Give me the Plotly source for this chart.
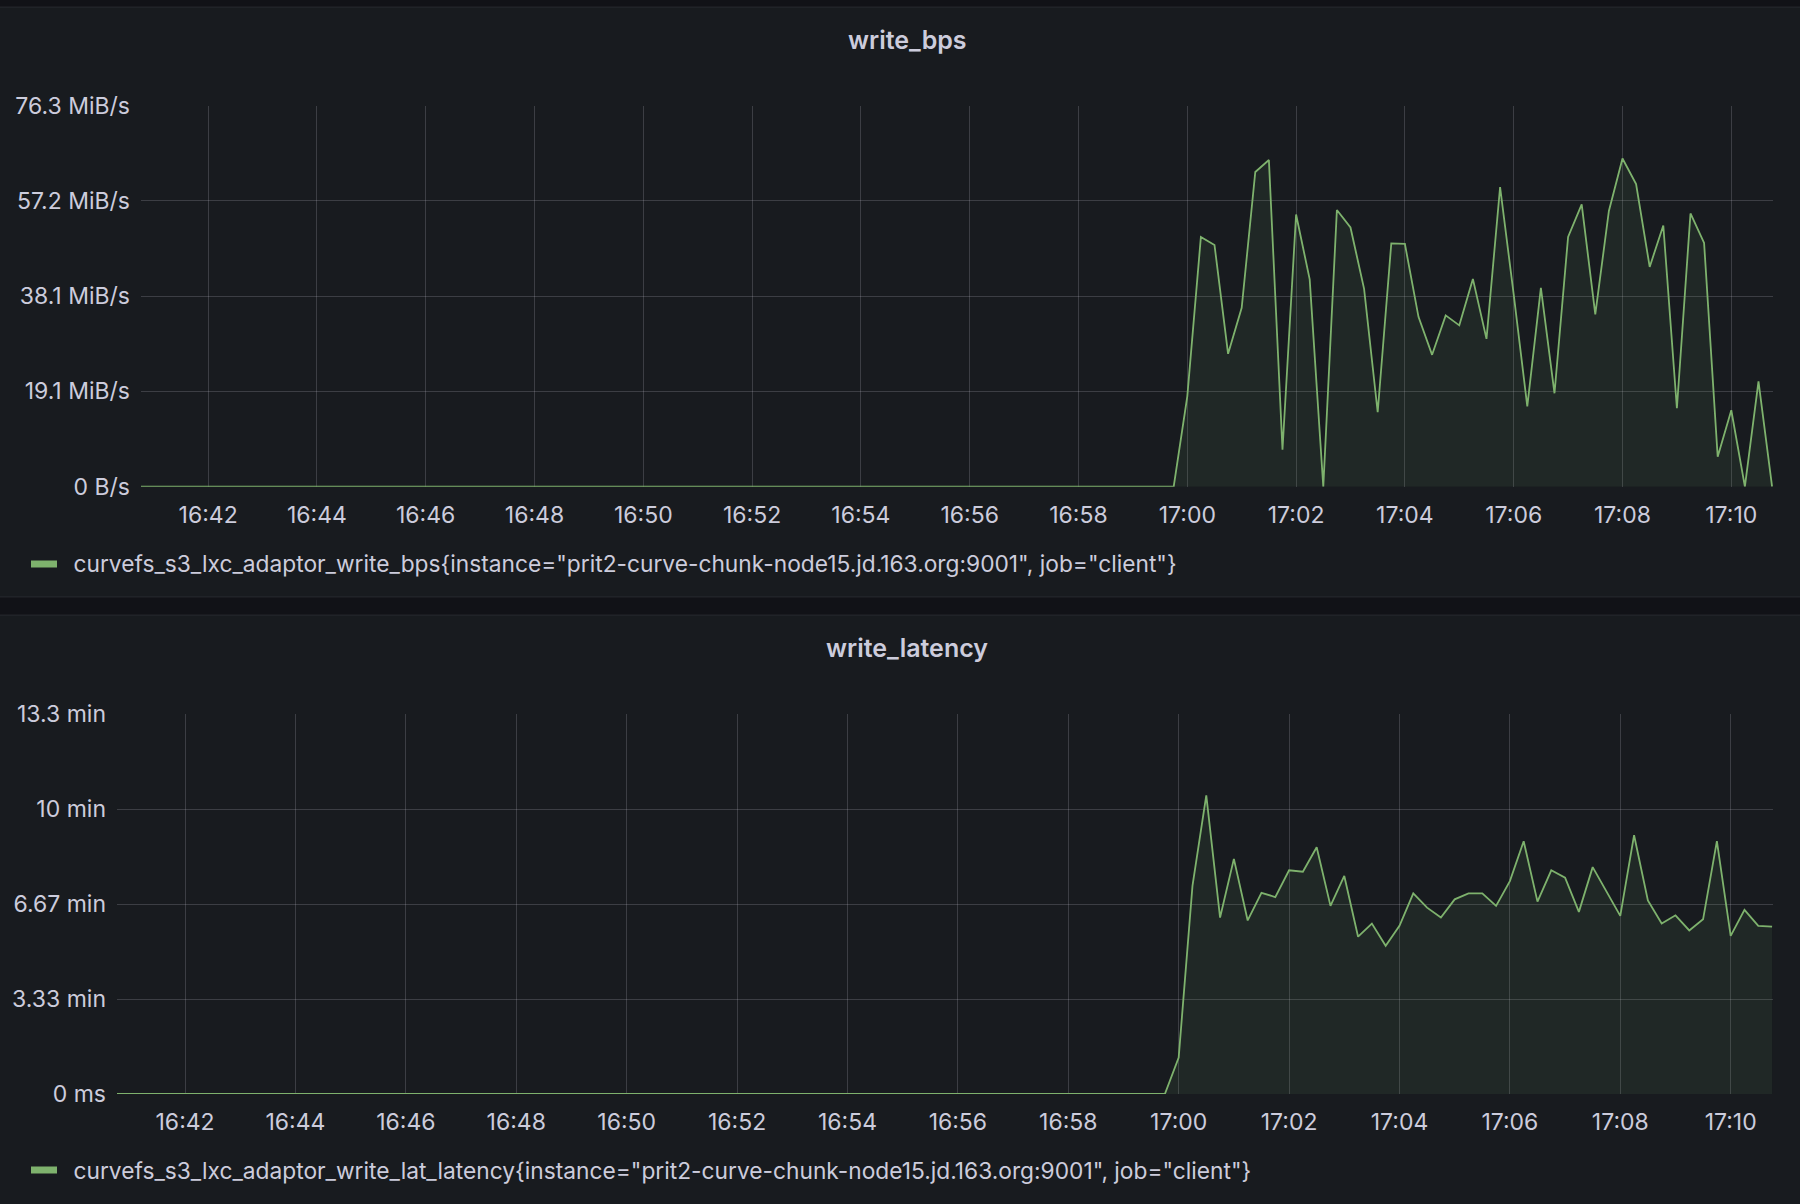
import pandas as pd
import plotly.graph_objects as go

# ---- data ----
DAY = "2022-06-10 "
pre_zero_count = 76  # flat zero samples, 16:40:45 .. 16:59:30 (15 s step)
bps_active = [0, 18.1, 50.0, 48.4, 26.6, 35.8, 63.0, 65.4, 7.4, 54.5, 41.5, 0,
              55.4, 51.9, 39.6, 14.9, 48.7, 48.6, 34.0, 26.4, 34.3, 32.3, 41.6,
              29.6, 60.0, 38.5, 16.1, 39.8, 18.7, 50.0, 56.5, 34.5, 55.2, 65.7,
              60.6, 44.0, 52.3, 15.7, 54.7, 48.8, 6.0, 15.3, 0, 21.1, 0]  # MiB/s, from 16:59:45
lat_active = [0, 1.28, 7.30, 10.48, 6.19, 8.25, 6.09, 7.06, 6.91, 7.85, 7.80, 8.66,
              6.60, 7.65, 5.52, 5.98, 5.20, 5.90, 7.04, 6.54, 6.19, 6.83, 7.04,
              7.04, 6.60, 7.47, 8.87, 6.75, 7.85, 7.59, 6.39, 7.96, 7.10, 6.25,
              9.08, 6.79, 5.98, 6.27, 5.74, 6.13, 8.87, 5.55, 6.46, 5.90, 5.87]  # minutes
bps_values = [0.0] * pre_zero_count + bps_active
lat_values = [0.0] * pre_zero_count + lat_active
times = pd.date_range(DAY + "16:40:45", periods=len(bps_values), freq="15s")

x_range = [DAY + "16:40:46", DAY + "17:10:46"]
bps_tickvals = [0, 19.0735, 38.147, 57.2205, 76.294]
bps_ticktext = ["0 B/s", "19.1 MiB/s", "38.1 MiB/s", "57.2 MiB/s", "76.3 MiB/s"]
lat_tickvals = [0, 3.3333, 6.6667, 10.0, 13.3333]
lat_ticktext = ["0 ms", "3.33 min", "6.67 min", "10 min", "13.3 min"]

bps_name = 'curvefs_s3_lxc_adaptor_write_bps{instance="prit2-curve-chunk-node15.jd.163.org:9001", job="client"}'
lat_name = 'curvefs_s3_lxc_adaptor_write_lat_latency{instance="prit2-curve-chunk-node15.jd.163.org:9001", job="client"}'

# ---- style ----
W, H = 1800, 1204
FONT = "Inter"
TXT = "#ccccdc"
GREEN = "#7eb26d"
FILL = "rgba(126,178,109,0.09)"
GRID = "rgba(204,204,220,0.2)"
PANEL = "#181b1f"
OUTER = "#111217"
TICK_SIZE = 23
LEG_SIZE = 22.75

def py(px):  # pixel from top -> paper y
    return 1 - px / H

def pxx(px):
    return px / W

fig = go.Figure()

fig.add_trace(go.Scatter(x=times, y=bps_values, mode="lines", fill="tozeroy",
                         line=dict(color=GREEN, width=1.8), fillcolor=FILL,
                         showlegend=False, xaxis="x", yaxis="y", hoverinfo="skip"))
fig.add_trace(go.Scatter(x=[None], y=[None], mode="lines", name=bps_name,
                         line=dict(color="rgba(0,0,0,0)", width=0), legend="legend",
                         xaxis="x", yaxis="y"))
fig.add_trace(go.Scatter(x=times, y=lat_values, mode="lines", fill="tozeroy",
                         line=dict(color=GREEN, width=1.8), fillcolor=FILL,
                         showlegend=False, xaxis="x2", yaxis="y2", hoverinfo="skip"))
fig.add_trace(go.Scatter(x=[None], y=[None], mode="lines", name=lat_name,
                         line=dict(color="rgba(0,0,0,0)", width=0), legend="legend2",
                         xaxis="x2", yaxis="y2"))

xcommon = dict(type="date", range=x_range, tickformat="%H:%M", dtick=120000,
               tick0=DAY + "16:42", showgrid=True, gridcolor=GRID, gridwidth=1,
               zeroline=False, showline=False, ticks="", ticklabelstandoff=12,
               automargin=False,
               tickfont=dict(family=FONT, size=TICK_SIZE, color=TXT), fixedrange=True)
ycommon = dict(showgrid=True, gridcolor=GRID, gridwidth=1, zeroline=False,
               showline=False, ticks="", ticklabelstandoff=10, automargin=False,
               tickfont=dict(family=FONT, size=TICK_SIZE, color=TXT), fixedrange=True)

def swatch(yc):
    return dict(type="rect", xref="paper", yref="paper",
                x0=pxx(31), x1=pxx(57), y0=py(yc + 3.5), y1=py(yc - 3.5),
                fillcolor=GREEN, line=dict(width=0), layer="above")

fig.update_layout(
    width=W, height=H,
    margin=dict(l=0, r=0, t=0, b=0, pad=0),
    paper_bgcolor=OUTER, plot_bgcolor=PANEL,
    font=dict(family=FONT, color=TXT, size=20),
    xaxis=dict(domain=[pxx(141), pxx(1773)], anchor="y", **xcommon),
    yaxis=dict(domain=[py(486.7), py(105.6)], anchor="x", range=[0, 76.294],
               tickvals=bps_tickvals, ticktext=bps_ticktext, **ycommon),
    xaxis2=dict(domain=[pxx(117), pxx(1773)], anchor="y2", **xcommon),
    yaxis2=dict(domain=[py(1094), py(714)], anchor="x2", range=[0, 13.3333],
                tickvals=lat_tickvals, ticktext=lat_ticktext, **ycommon),
    legend=dict(x=pxx(33.5), y=py(563), xanchor="left", yanchor="middle",
                bgcolor="rgba(0,0,0,0)", font=dict(family=FONT, size=LEG_SIZE, color=TXT),
                itemwidth=30, orientation="h"),
    legend2=dict(x=pxx(33.5), y=py(1170), xanchor="left", yanchor="middle",
                 bgcolor="rgba(0,0,0,0)", font=dict(family=FONT, size=LEG_SIZE, color=TXT),
                 itemwidth=30, orientation="h"),
    shapes=[
        dict(type="rect", xref="paper", yref="paper", x0=-0.01, x1=1.01,
             y0=py(597), y1=py(7), fillcolor=PANEL,
             line=dict(color="rgba(204,204,220,0.10)", width=1), layer="below"),
        dict(type="rect", xref="paper", yref="paper", x0=-0.01, x1=1.01,
             y0=-0.01, y1=py(615), fillcolor=PANEL,
             line=dict(color="rgba(204,204,220,0.10)", width=1), layer="below"),
        swatch(564),
        swatch(1170),
    ],
    annotations=[
        dict(text="write_bps", x=pxx(907), y=py(40), xref="paper", yref="paper",
             showarrow=False, xanchor="center", yanchor="middle",
             font=dict(family=FONT, size=25, color=TXT, weight=600)),
        dict(text="write_latency", x=pxx(907), y=py(648), xref="paper", yref="paper",
             showarrow=False, xanchor="center", yanchor="middle",
             font=dict(family=FONT, size=25, color=TXT, weight=600)),
    ],
)

fig.write_html("out.html", config={"displayModeBar": False},
               post_script="document.body.style.margin='0';document.body.style.overflow='hidden';")
